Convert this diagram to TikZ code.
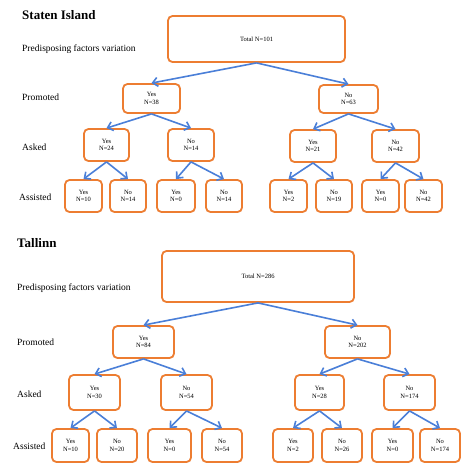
\documentclass[tikz,border=0pt]{standalone}
\usepackage{fontspec}
\setmainfont{Liberation Serif}
\usetikzlibrary{arrows.meta}
\definecolor{boxorange}{HTML}{ED7D31}
\definecolor{arrowblue}{HTML}{4A7FD8}
\tikzset{
  tbox/.style={draw=boxorange, line width=1.8pt, rounded corners=4.5pt, fill=white,
    align=center, font=\fontsize{6.5}{7.5}\selectfont, inner sep=0pt},
  conn/.style={draw=arrowblue, line width=1.6pt, -{Straight Barb[length=5pt,width=9pt]}},
  rowlab/.style={anchor=west, font=\fontsize{9.5}{10}\selectfont, inner sep=0pt},
  ttl/.style={anchor=west, font=\bfseries\fontsize{13}{14}\selectfont, inner sep=0pt},
}
\begin{document}
\begin{tikzpicture}[x=1pt,y=-1pt]
\useasboundingbox[fill=white] (0,0) rectangle (474,474);
% ---------- Staten Island ----------
\node[ttl] (t1) at (22,15) {Staten Island};
\node[rowlab] (l1a) at (22,49) {Predisposing factors variation};
\node[rowlab] (l1b) at (22,97) {Promoted};
\node[rowlab] (l1c) at (22,147) {Asked};
\node[rowlab] (l1d) at (19,197) {Assisted};
\node[tbox, minimum width=177pt, minimum height=46pt] (s0) at (256.5,39) {Total N=101};
\node[tbox, minimum width=57pt, minimum height=29pt] (s1) at (151.5,98.5) {Yes\\N=38};
\node[tbox, minimum width=59pt, minimum height=28pt] (s2) at (348.5,99) {No\\N=63};
\node[tbox, minimum width=45pt, minimum height=32pt] (s11) at (106.5,145) {Yes\\N=24};
\node[tbox, minimum width=46pt, minimum height=32pt] (s12) at (191,145) {No\\N=14};
\node[tbox, minimum width=46pt, minimum height=32pt] (s21) at (313,146) {Yes\\N=21};
\node[tbox, minimum width=47pt, minimum height=32pt] (s22) at (395.5,146) {No\\N=42};
\node[tbox, minimum width=37pt, minimum height=32pt] (s111) at (83.5,196) {Yes\\N=10};
\node[tbox, minimum width=36pt, minimum height=32pt] (s112) at (128,196) {No\\N=14};
\node[tbox, minimum width=38pt, minimum height=32pt] (s121) at (176,196) {Yes\\N=0};
\node[tbox, minimum width=36pt, minimum height=32pt] (s122) at (224,196) {No\\N=14};
\node[tbox, minimum width=37pt, minimum height=32pt] (s211) at (288.5,196) {Yes\\N=2};
\node[tbox, minimum width=36pt, minimum height=32pt] (s212) at (334,196) {No\\N=19};
\node[tbox, minimum width=37pt, minimum height=32pt] (s221) at (380.5,196) {Yes\\N=0};
\node[tbox, minimum width=37pt, minimum height=32pt] (s222) at (423.5,196) {No\\N=42};
\draw[conn] (s0.south) -- (s1.north);
\draw[conn] (s0.south) -- (s2.north);
\draw[conn] (s1.south) -- (s11.north);
\draw[conn] (s1.south) -- (s12.north);
\draw[conn] (s2.south) -- (s21.north);
\draw[conn] (s2.south) -- (s22.north);
\draw[conn] (s11.south) -- (s111.north);
\draw[conn] (s11.south) -- (s112.north);
\draw[conn] (s12.south) -- (s121.north);
\draw[conn] (s12.south) -- (s122.north);
\draw[conn] (s21.south) -- (s211.north);
\draw[conn] (s21.south) -- (s212.north);
\draw[conn] (s22.south) -- (s221.north);
\draw[conn] (s22.south) -- (s222.north);
% ---------- Tallinn ----------
\node[ttl] (t2) at (17,243) {Tallinn};
\node[rowlab] (l2a) at (17,288) {Predisposing factors variation};
\node[rowlab] (l2b) at (17,342) {Promoted};
\node[rowlab] (l2c) at (17,394) {Asked};
\node[rowlab] (l2d) at (13,446) {Assisted};
\node[tbox, minimum width=192pt, minimum height=51pt] (r0) at (258,276.5) {Total N=286};
\node[tbox, minimum width=61pt, minimum height=32pt] (r1) at (143.5,342) {Yes\\N=84};
\node[tbox, minimum width=65pt, minimum height=32pt] (r2) at (357.5,342) {No\\N=202};
\node[tbox, minimum width=51pt, minimum height=35pt] (r11) at (94.5,392.5) {Yes\\N=30};
\node[tbox, minimum width=51pt, minimum height=35pt] (r12) at (186.5,392.5) {No\\N=54};
\node[tbox, minimum width=49pt, minimum height=35pt] (r21) at (319.5,392.5) {Yes\\N=28};
\node[tbox, minimum width=51pt, minimum height=35pt] (r22) at (409.5,392.5) {No\\N=174};
\node[tbox, minimum width=37pt, minimum height=33pt] (r111) at (70.5,445.5) {Yes\\N=10};
\node[tbox, minimum width=40pt, minimum height=33pt] (r112) at (117,445.5) {No\\N=20};
\node[tbox, minimum width=43pt, minimum height=33pt] (r121) at (169.5,445.5) {Yes\\N=0};
\node[tbox, minimum width=40pt, minimum height=33pt] (r122) at (222,445.5) {No\\N=54};
\node[tbox, minimum width=40pt, minimum height=33pt] (r211) at (293,445.5) {Yes\\N=2};
\node[tbox, minimum width=40pt, minimum height=33pt] (r212) at (342,445.5) {No\\N=26};
\node[tbox, minimum width=41pt, minimum height=33pt] (r221) at (392.5,445.5) {Yes\\N=0};
\node[tbox, minimum width=40pt, minimum height=33pt] (r222) at (440,445.5) {No\\N=174};
\draw[conn] (r0.south) -- (r1.north);
\draw[conn] (r0.south) -- (r2.north);
\draw[conn] (r1.south) -- (r11.north);
\draw[conn] (r1.south) -- (r12.north);
\draw[conn] (r2.south) -- (r21.north);
\draw[conn] (r2.south) -- (r22.north);
\draw[conn] (r11.south) -- (r111.north);
\draw[conn] (r11.south) -- (r112.north);
\draw[conn] (r12.south) -- (r121.north);
\draw[conn] (r12.south) -- (r122.north);
\draw[conn] (r21.south) -- (r211.north);
\draw[conn] (r21.south) -- (r212.north);
\draw[conn] (r22.south) -- (r221.north);
\draw[conn] (r22.south) -- (r222.north);
\end{tikzpicture}
\end{document}
